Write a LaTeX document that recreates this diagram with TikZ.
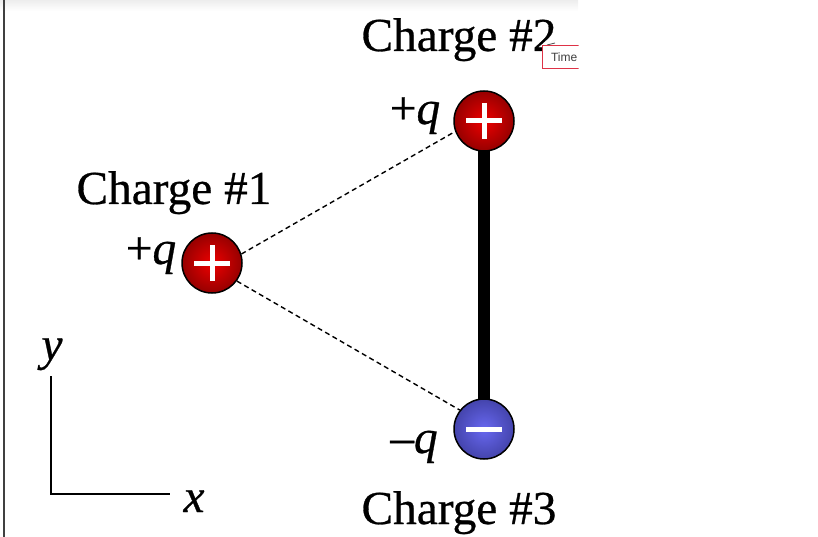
\documentclass[tikz,border=0pt]{standalone}
\usepackage{fontspec}
\setmainfont[FakeBold=0.6]{Liberation Serif}
\newfontfamily\tipfont{Liberation Sans}
\usetikzlibrary{calc}
\definecolor{tipred}{RGB}{222,50,70}
\tikzstyle{every node}=[font=\fontsize{47.3}{50}\selectfont,inner sep=0pt]
\tikzstyle{ball}=[circle,draw=black,line width=1.5pt,minimum size=60pt]
\tikzstyle{posball}=[ball,inner color={rgb,255:red,238;green,0;blue,0},outer color={rgb,255:red,150;green,0;blue,0}]
\tikzstyle{negball}=[ball,inner color={rgb,255:red,104;green,104;blue,240},outer color={rgb,255:red,68;green,68;blue,172}]
\tikzstyle{sign}=[white,line width=5pt]
\tikzstyle{axis}=[black,line width=1.6pt]
\tikzstyle{caption}=[anchor=base]

\begin{document}
\begin{tikzpicture}[x=1pt,y=-1pt]
    \useasboundingbox (0,0) rectangle (818,537);
    % browser leftovers
    \shade[top color=black!7,bottom color=white] (0,0) rectangle (578,11);
    \draw[black!75,line width=1.6pt] (4,0)--(4,537);

    % charges
    \node[posball] (one) at (212,263) {};
    \node[posball] (two) at (484,121) {};
    \node[negball] (three) at (484,429) {};
    \draw[line width=1.4pt,dash pattern=on 5pt off 3.5pt] (one.17)--(two.200) (one.-36)--(three.142);
    \draw[line width=12pt,shorten <=-1pt,shorten >=-1pt] (two.south)--(three.north);
    \draw[sign]
    (one.center)++(-18,0)--++(36,0)
    (one.center)++(0,-18)--++(0,36)
    (two.center)++(-18,0)--++(36,0)
    (two.center)++(0,-18)--++(0,36)
    (three.center)++(-18,0)--++(36,0);

    % labels
    \node[caption] (nameone) at (174,204) {Charge \#1};
    \node[caption] (nametwo) at (459,51) {Charge \#2};
    \node[caption] (namethree) at (459,524) {Charge \#3};
    \node[caption] (qone) at (151,264) {+\textit{q}};
    \node[caption] (qtwo) at (415,124) {+\textit{q}};
    \node[caption] (qthree) at (414,453) {–\textit{q}};

    % axes
    \coordinate (origin) at (51,494);
    \coordinate (ytip) at (51,376);
    \coordinate (xtip) at (170,494);
    \draw[axis] (ytip)--(origin)--(xtip);
    \node[caption] (yname) at (52,360) {\textit{y}};
    \node[caption] (xname) at (194,512) {\textit{x}};

    % tooltip
    \draw[black!70,line width=0.8pt] (547,45)--(555,43);
    \begin{scope}
    \clip (535,40) rectangle (578.5,75);
    \node[draw=tipred,fill=white,line width=1pt,minimum width=60pt,minimum height=23pt,
      anchor=north west,font=\tipfont\fontsize{12}{13}\selectfont,text=black!75,
      text width=54pt,align=left] (tip) at (541.5,45.5) {\hspace{6pt}Time l};
    \end{scope}
\end{tikzpicture}
\end{document}
